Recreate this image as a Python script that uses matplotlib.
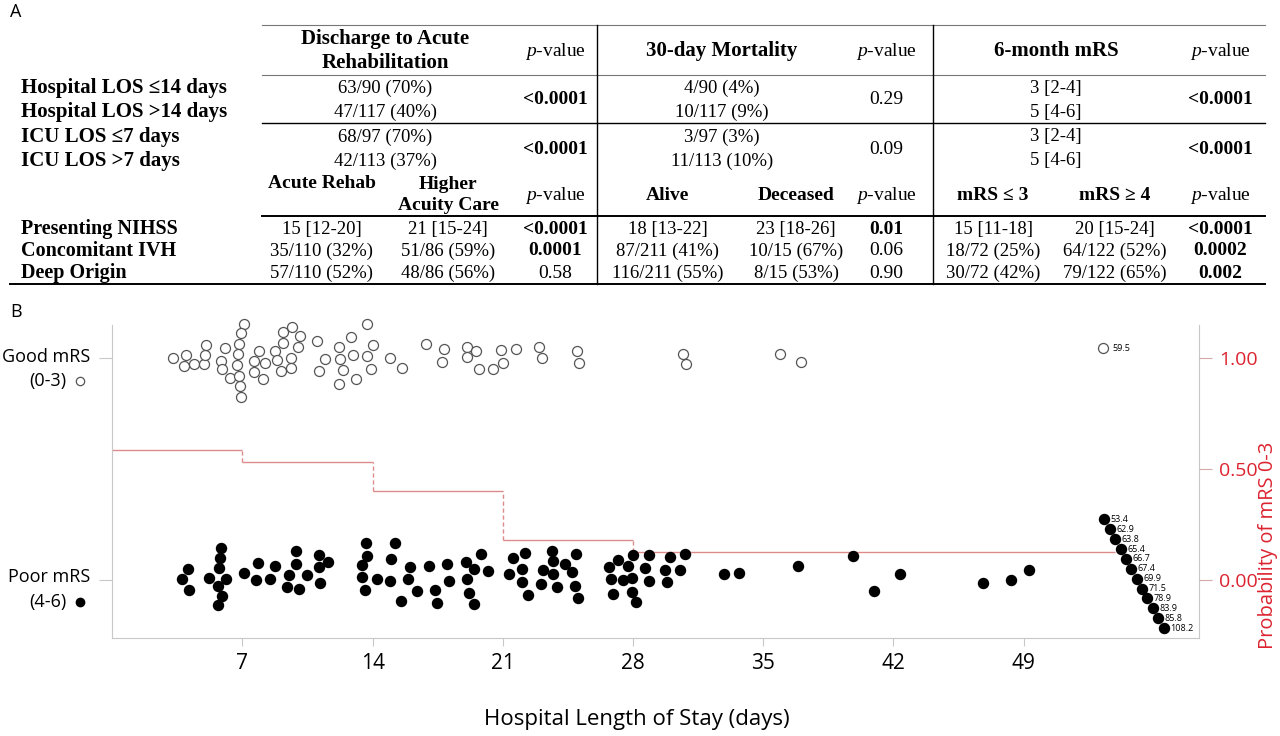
import numpy as np
import matplotlib.pyplot as plt
from matplotlib.lines import Line2D

plt.rcParams['mathtext.fontset'] = 'custom'
plt.rcParams['mathtext.rm'] = 'Liberation Serif'
plt.rcParams['mathtext.it'] = 'Liberation Serif:italic'

# ---------------- panel A: table ----------------
col_heads = ['Discharge to Acute\nRehabilitation', '30-day Mortality', '6-month mRS']
los_rows = ['Hospital LOS \u226414 days', 'Hospital LOS >14 days',
            'ICU LOS \u22647 days', 'ICU LOS >7 days']
los_vals = [['63/90 (70%)', '47/117 (40%)', '68/97 (70%)', '42/113 (37%)'],
            ['4/90 (4%)', '10/117 (9%)', '3/97 (3%)', '11/113 (10%)'],
            ['3 [2-4]', '5 [4-6]', '3 [2-4]', '5 [4-6]']]
los_p = [['<0.0001', '<0.0001'], ['0.29', '0.09'], ['<0.0001', '<0.0001']]
los_p_bold = [[True, True], [False, False], [True, True]]

sub_heads = [['Acute Rehab', 'Higher\nAcuity Care'], ['Alive', 'Deceased'],
             ['mRS \u2264 3', 'mRS \u2265 4']]
char_rows = ['Presenting NIHSS', 'Concomitant IVH', 'Deep Origin']
char_vals = [[['15 [12-20]', '21 [15-24]'], ['35/110 (32%)', '51/86 (59%)'], ['57/110 (52%)', '48/86 (56%)']],
             [['18 [13-22]', '23 [18-26]'], ['87/211 (41%)', '10/15 (67%)'], ['116/211 (55%)', '8/15 (53%)']],
             [['15 [11-18]', '20 [15-24]'], ['18/72 (25%)', '64/122 (52%)'], ['30/72 (42%)', '79/122 (65%)']]]
char_p = [['<0.0001', '0.0001', '0.58'], ['0.01', '0.06', '0.90'], ['<0.0001', '0.0002', '0.002']]
char_p_bold = [[True, True, False], [True, False, False], [True, True, True]]

# ---------------- panel B: scatter ----------------
good_los = [3.25, 3.97, 3.84, 4.40, 4.95, 5.01, 5.04, 6.06, 5.87, 5.90, 6.33, 7.07, 6.92, 6.83,
            6.75, 6.73, 6.83, 6.87, 6.94, 7.88, 7.61, 8.23, 7.62, 8.12, 8.77, 9.20, 9.65, 10.08,
            9.20, 10.01, 8.86, 9.63, 9.06, 9.63, 11.03, 11.46, 11.12, 12.18, 12.25, 12.39, 12.18,
            12.85, 12.96, 13.11, 13.68, 14.02, 13.70, 13.90, 14.95, 15.56, 16.87, 17.82, 17.73,
            19.08, 19.08, 19.58, 19.70, 20.49, 20.90, 21.01, 21.69, 22.96, 23.09, 25.01, 25.11,
            30.68, 30.83, 35.92, 37.03]
good_jit = [0.000, 0.012, -0.037, -0.027, -0.027, 0.012, 0.057, 0.046, -0.012, -0.051, -0.091,
            0.153, 0.111, 0.063, 0.017, -0.032, -0.080, -0.127, -0.176, 0.033, -0.015, -0.021,
            -0.062, -0.095, 0.033, 0.116, 0.140, 0.098, 0.066, 0.051, -0.009, -0.001, -0.057,
            -0.045, 0.078, -0.005, -0.060, 0.048, -0.005, -0.055, -0.117, 0.095, 0.012, -0.095,
            0.152, 0.060, 0.009, -0.048, 0.001, -0.044, 0.062, 0.039, -0.017, 0.050, 0.005, 0.030,
            -0.050, -0.048, 0.037, -0.021, 0.039, 0.050, 0.001, 0.030, -0.024, 0.017, -0.026,
            0.018, -0.019]
poor_los = [3.75, 4.06, 4.13, 5.22, 5.83, 5.78, 5.76, 6.12, 5.67, 5.92, 5.67, 7.10, 7.85, 7.75,
            8.50, 8.77, 9.51, 9.38, 9.90, 9.90, 10.04, 10.46, 11.12, 11.12, 11.60, 11.19, 13.66,
            13.72, 13.45, 13.45, 13.61, 14.22, 15.20, 14.97, 14.95, 16.03, 15.92, 16.39, 15.51,
            17.02, 17.35, 17.45, 18.02, 18.11, 19.02, 19.47, 19.08, 19.20, 19.47, 19.83, 20.20,
            21.53, 22.19, 22.02, 21.35, 22.02, 22.35, 23.66, 23.70, 24.34, 23.15, 23.70, 24.74,
            23.05, 23.90, 24.94, 24.90, 25.04, 27.18, 26.73, 27.75, 26.80, 27.45, 27.93, 26.92,
            27.93, 28.15, 28.00, 28.84, 28.65, 28.84, 29.97, 29.74, 29.84, 30.80, 30.53, 32.89,
            33.72, 36.89, 39.84, 40.96, 42.37, 46.83, 48.34, 49.27]
poor_jit = [0.003, 0.050, -0.046, 0.010, 0.145, 0.098, 0.053, 0.003, -0.027, -0.073, -0.113,
            0.033, 0.075, 0.001, 0.003, 0.064, 0.021, -0.032, 0.131, 0.072, -0.042, 0.023, 0.114,
            0.057, 0.081, -0.014, 0.165, 0.107, 0.066, 0.012, -0.044, 0.005, 0.168, 0.096, -0.003,
            0.060, 0.006, -0.048, -0.093, 0.063, -0.044, -0.104, 0.072, -0.005, 0.081, 0.048,
            0.006, -0.060, -0.108, 0.118, 0.041, 0.098, 0.123, 0.048, 0.027, -0.008, -0.068, 0.132,
            0.086, 0.072, 0.044, 0.026, 0.036, -0.017, -0.030, 0.116, -0.028, -0.081, 0.090, 0.057,
            0.063, 0.003, 0.001, 0.010, -0.063, -0.053, -0.100, 0.113, 0.113, 0.054, -0.003, 0.105,
            0.044, -0.010, 0.117, 0.046, 0.026, 0.032, 0.063, 0.108, -0.048, 0.028, -0.015, 0.000,
            0.046]
good_outlier = [59.5]
poor_outliers = [53.4, 62.9, 63.8, 65.4, 66.7, 67.4, 69.9, 71.5, 78.9, 83.9, 85.8, 108.2]

step_edges = [0, 7, 14, 21, 28, 53.9]
step_prob = [0.585, 0.53, 0.40, 0.18, 0.126]
x_ticks = [7, 14, 21, 28, 35, 42, 49]
prob_ticks = [0.0, 0.5, 1.0]

W, H = 1280, 736
fig = plt.figure(figsize=(W / 100, H / 100), dpi=100)

def fx(x):
    return x / W

def fy(y):
    return 1 - y / H

serif = ['Liberation Serif', 'DejaVu Serif']
sans = ['Open Sans', 'DejaVu Sans']

def ttext(x, y, s, bold=False, ha='center', size=13.5):
    fig.text(fx(x), fy(y), s, ha=ha, va='center', family=serif, fontsize=size,
             fontweight='bold' if bold else 'normal', linespacing=1.3)

def hline(x0, x1, y, lw=1.0, c='black'):
    fig.add_artist(Line2D([fx(x0), fx(x1)], [fy(y), fy(y)], lw=lw, color=c))

def vline(x, y0, y1, lw=1.0, c='black'):
    fig.add_artist(Line2D([fx(x), fx(x)], [fy(y0), fy(y1)], lw=lw, color=c))

fig.text(fx(10), fy(12), 'A', family=sans, fontsize=13, va='center', ha='left')
fig.text(fx(10), fy(312), 'B', family=sans, fontsize=13, va='center', ha='left')

col_c = [385, 722, 1056]
sub_c = [[322, 448], [668, 796], [993, 1115]]
p_c = [555, 886, 1220]
pval = '$\\it{p}$-value'
hb = 15  # bold heading / row label size

hline(262, 1265, 25, 0.8, '#777777')
hline(262, 1265, 75, 0.8, '#777777')
hline(262, 1265, 123, 1.0)
hline(262, 1265, 216, 1.4)
hline(10, 1265, 284, 1.4)
vline(597, 25, 284, 1.0)
vline(933, 25, 284, 1.0)

for i in range(3):
    ttext(col_c[i], 51, col_heads[i], bold=True, size=hb)
    ttext(p_c[i], 51, pval, size=14)
    two = any('\n' in s for s in sub_heads[i])
    for j in range(2):
        s = sub_heads[i][j]
        yy = 195 if ('\n' in s or not two) else 184
        ttext(sub_c[i][j], yy, s, bold=True, size=14)
    ttext(p_c[i], 196, pval, size=14)

row_y = [88, 112, 137, 161]
for r, lab in enumerate(los_rows):
    ttext(21, row_y[r], lab, bold=True, ha='left', size=hb)
    for i in range(3):
        ttext(col_c[i], row_y[r], los_vals[i][r])
for k, py_ in enumerate([100, 149]):
    for i in range(3):
        ttext(p_c[i], py_, los_p[i][k], bold=los_p_bold[i][k], size=14)

char_y = [229, 251, 273]
for r, lab in enumerate(char_rows):
    ttext(21, char_y[r], lab, bold=True, ha='left', size=14.5)
    for i in range(3):
        ttext(sub_c[i][0], char_y[r], char_vals[i][r][0])
        ttext(sub_c[i][1], char_y[r], char_vals[i][r][1])
        ttext(p_c[i], char_y[r], char_p[i][r], bold=char_p_bold[i][r], size=14)

# ---------------- panel B ----------------
red = '#dc2430'
ax = fig.add_axes([111.5 / W, 1 - 638 / H, (1199 - 111.5) / W, (638 - 325) / H])
ax.set_xlim(-0.04, 58.43)
ax.set_ylim(-0.261, 1.149)

ms = 52
ax.scatter(good_los, 1 + np.array(good_jit), s=ms, facecolors='white', edgecolors='#555555',
           linewidths=0.9, clip_on=False, zorder=3)
ax.scatter(poor_los, poor_jit, s=ms, color='black', clip_on=False, zorder=3)

# outliers stacked at the right edge, labelled with their true LOS
ax.scatter([53.28], [1.044], s=ms, facecolors='white', edgecolors='#555555', linewidths=0.9, zorder=3)
ax.text(53.28 + 0.5, 1.044, str(good_outlier[0]), fontsize=6.5, family=sans, va='center')
idx = np.arange(len(poor_outliers))
ox = 53.34 + 0.29 * idx
oy = 0.273 - 0.0445 * idx
ax.scatter(ox, oy, s=ms, color='black', zorder=4)
for xx, yy, v in zip(ox, oy, poor_outliers):
    ax.text(xx + 0.35, yy, str(v), fontsize=6.5, family=sans, va='center')

step_col = '#dc8a8a'
ax.hlines(step_prob, step_edges[:-1], step_edges[1:], color=step_col, lw=1.0, zorder=2)
ax.vlines(step_edges[1:-1], step_prob[1:], step_prob[:-1], color=step_col, lw=1.0,
          linestyles=(0, (3, 2)), zorder=2)

ax.spines['top'].set_visible(False)
for s in ['left', 'bottom', 'right']:
    ax.spines[s].set_color('#c8c8c8')
ax.set_xticks(x_ticks)
ax.set_xticklabels([str(t) for t in x_ticks], family=sans, fontsize=15)
ax.tick_params(axis='x', length=6, color='#c8c8c8', pad=5)
ax.set_yticks([0, 1])
ax.set_yticklabels(['', ''])
ax.tick_params(axis='y', length=9.5, color='#c8c8c8')

ax2 = ax.twinx()
ax2.set_ylim(ax.get_ylim())
for s in ax2.spines.values():
    s.set_visible(False)
ax2.set_yticks(prob_ticks)
ax2.set_yticklabels(['%.2f' % t for t in prob_ticks], family=sans, fontsize=14, color=red)
ax2.tick_params(axis='y', length=9.5, color='#d8a8a8', pad=5)

fig.text(fx(1268), fy(545), 'Probability of mRS 0-3', rotation=90, color=red, family=sans,
         fontsize=14.5, ha='center', va='center')
fig.text(fx(637), fy(720), 'Hospital Length of Stay (days)', family=sans, fontsize=16,
         ha='center', va='center')

fig.text(fx(90), fy(357), 'Good mRS', family=sans, fontsize=13, ha='right', va='center')
fig.text(fx(66), fy(381), '(0-3)', family=sans, fontsize=13, ha='right', va='center')
fig.text(fx(90), fy(577), 'Poor mRS', family=sans, fontsize=13, ha='right', va='center')
fig.text(fx(66), fy(602), '(4-6)', family=sans, fontsize=13, ha='right', va='center')
fig.add_artist(Line2D([fx(80)], [fy(381)], marker='o', ms=6, mfc='white', mec='#555555', mew=0.9))
fig.add_artist(Line2D([fx(80)], [fy(602)], marker='o', ms=6, mfc='black', mec='black'))

fig.savefig('out.png', dpi=100)
